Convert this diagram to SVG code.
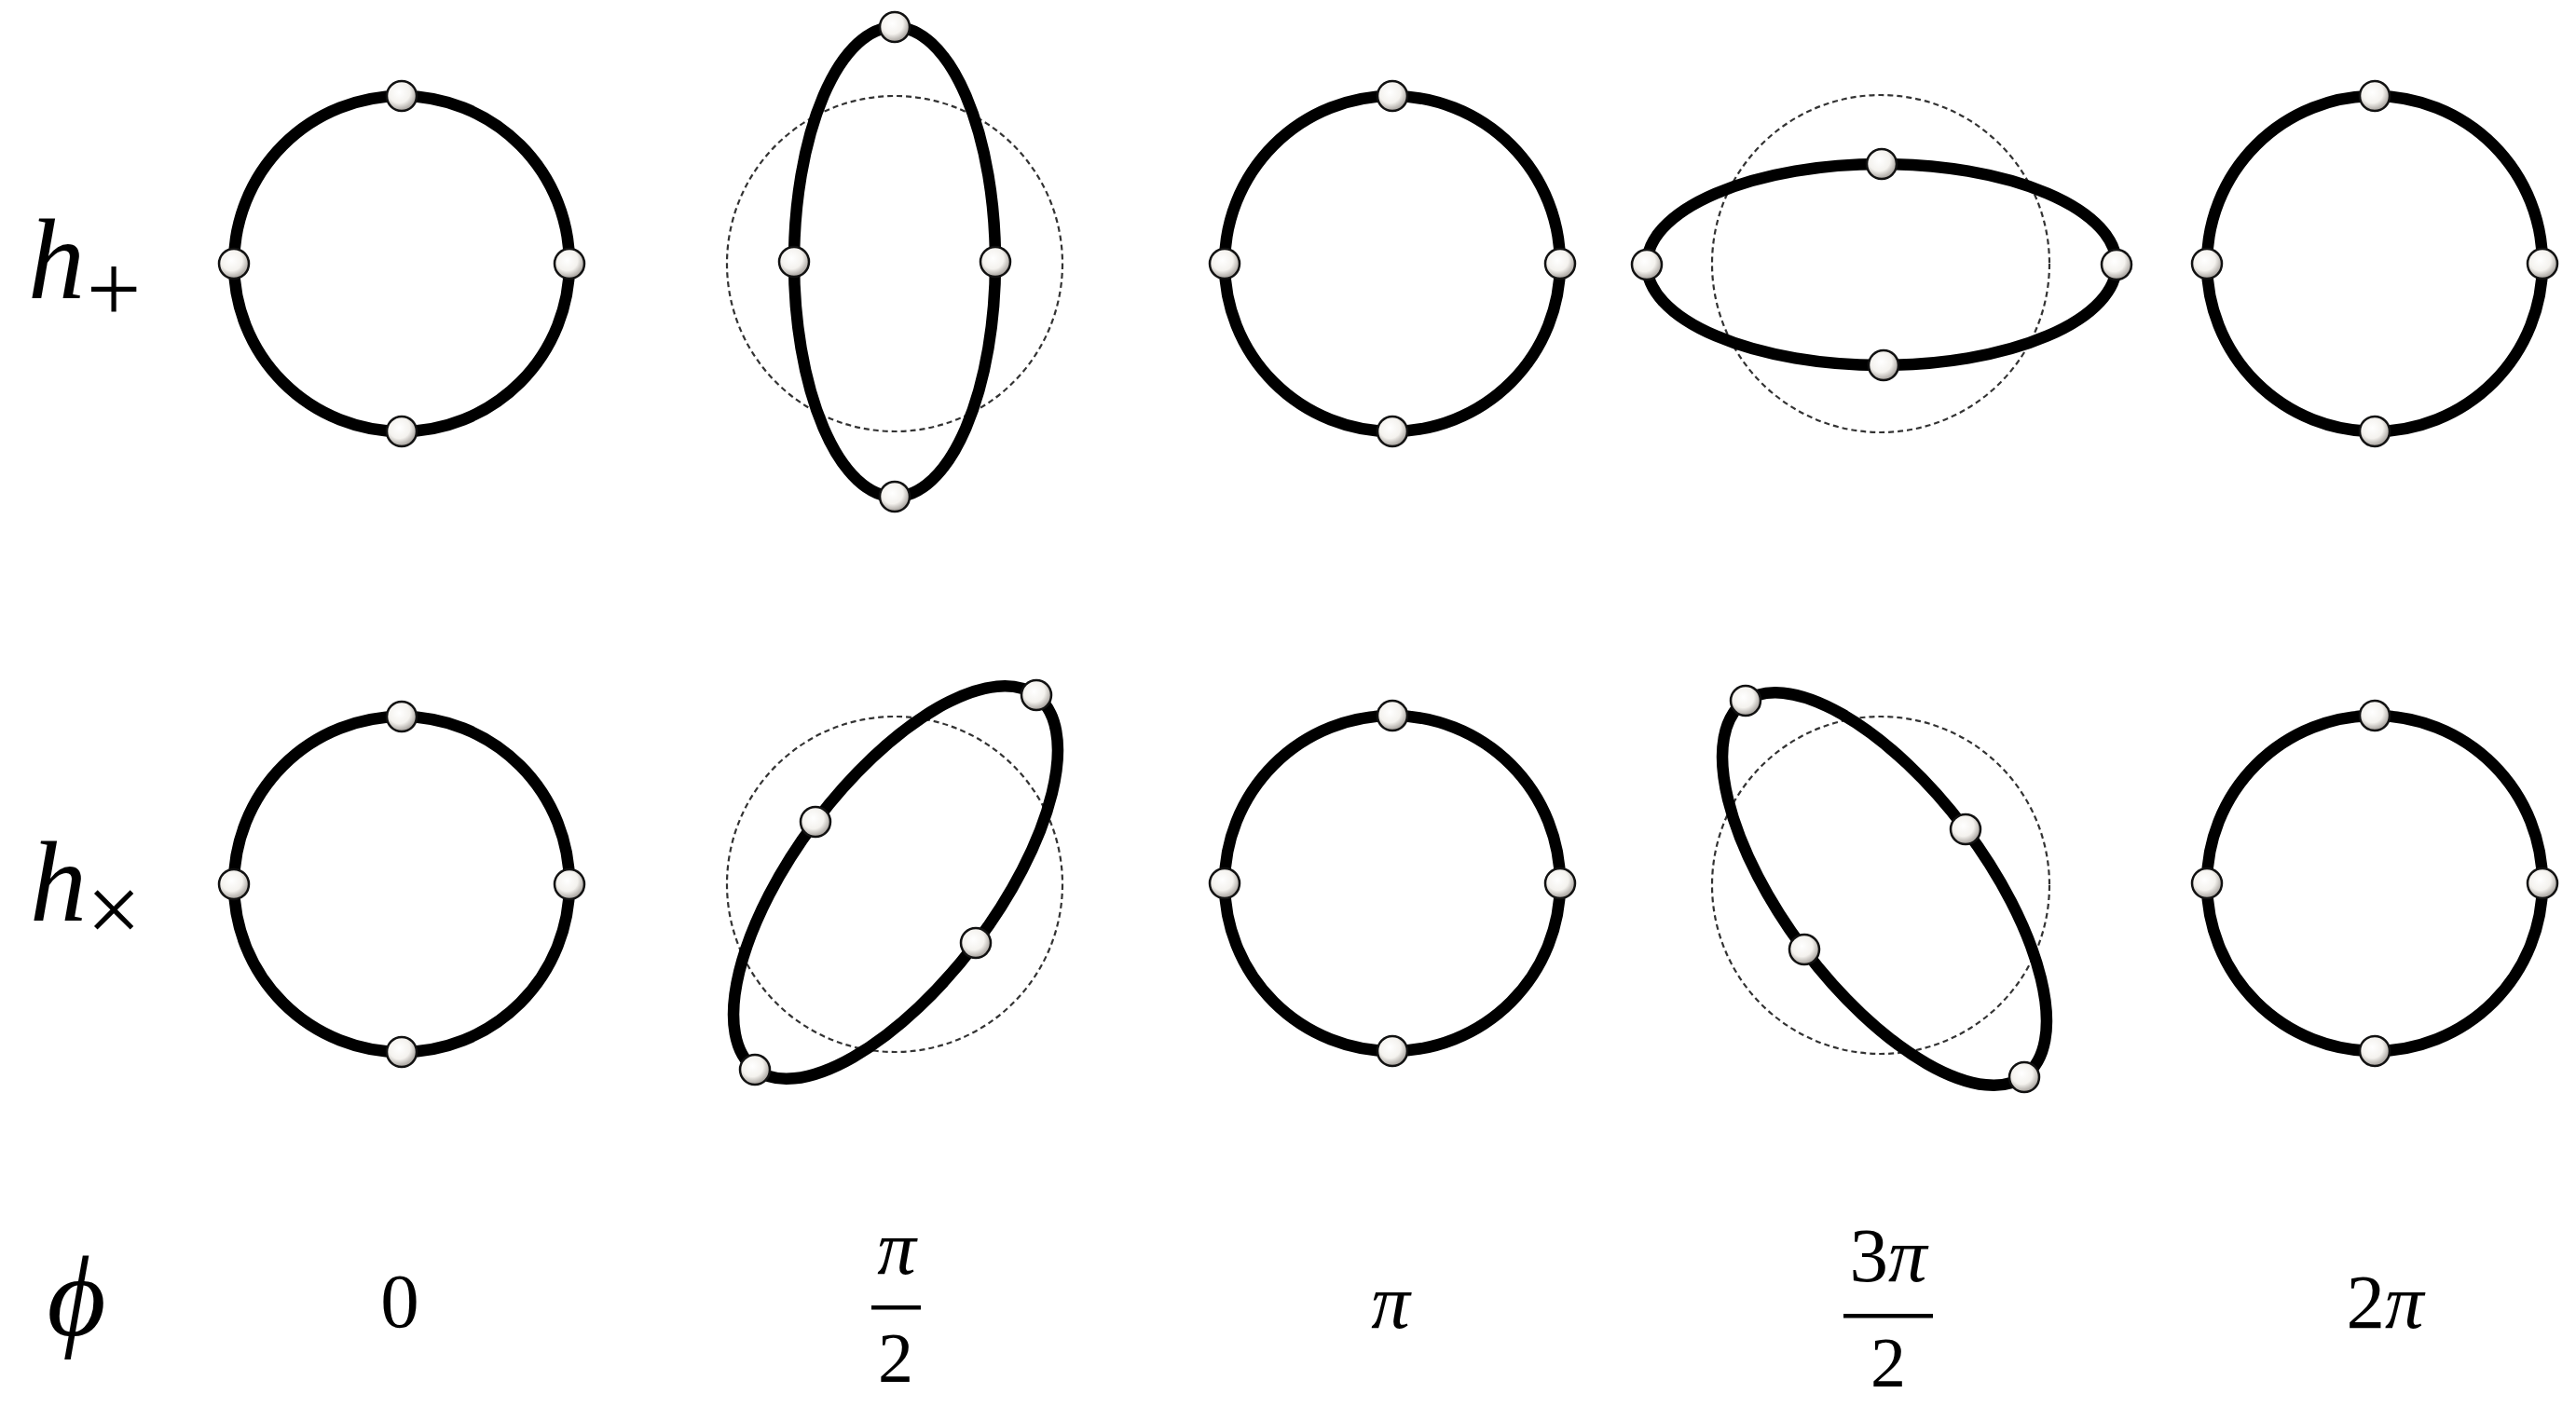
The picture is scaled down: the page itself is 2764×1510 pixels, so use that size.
<svg xmlns="http://www.w3.org/2000/svg" width="2764" height="1510" viewBox="0 0 2764 1510">
<style>
.ring{fill:none;stroke:#000;stroke-width:12.5}
.ref{fill:none;stroke:#333;stroke-width:2.2;stroke-dasharray:6 4}
.bead{fill:url(#bg);stroke:#111;stroke-width:2.5}
.m{font-family:"Liberation Serif","DejaVu Serif",serif;fill:#000}
.it{font-style:italic}
</style>
<defs>
<radialGradient id="bg" cx="0.42" cy="0.38" r="0.65">
<stop offset="0" stop-color="#ffffff"/>
<stop offset="0.55" stop-color="#f4f2ee"/>
<stop offset="1" stop-color="#9a9590"/>
</radialGradient>
</defs>
<rect width="2764" height="1510" fill="#fff"/>

<g id="label-hplus">
<text class="m it" x="30" y="320" font-size="122">h</text>
<text class="m" x="122" y="345" font-size="104" text-anchor="middle">+</text>
</g>
<g id="label-hcross">
<text class="m it" x="32" y="988" font-size="122">h</text>
<text class="m" x="122" y="1011" font-size="104" text-anchor="middle">×</text>
</g>
<g id="label-phi">
<text class="m it" x="82" y="1433" font-size="122" text-anchor="middle">ϕ</text>
</g>

<g id="plus-0">
<circle class="ring" cx="431" cy="283" r="180"/>
<circle class="bead" cx="431" cy="103" r="16"/>
<circle class="bead" cx="431" cy="463" r="16"/>
<circle class="bead" cx="251" cy="283" r="16"/>
<circle class="bead" cx="611" cy="283" r="16"/>
</g>
<g id="plus-pi2">
<circle class="ref" cx="960" cy="283" r="180"/>
<ellipse class="ring" cx="960" cy="281" rx="108" ry="252"/>
<circle class="bead" cx="960" cy="29" r="16"/>
<circle class="bead" cx="960" cy="533" r="16"/>
<circle class="bead" cx="852" cy="281" r="16"/>
<circle class="bead" cx="1068" cy="281" r="16"/>
</g>
<g id="plus-pi">
<circle class="ring" cx="1494" cy="283" r="180"/>
<circle class="bead" cx="1494" cy="103" r="16"/>
<circle class="bead" cx="1494" cy="463" r="16"/>
<circle class="bead" cx="1314" cy="283" r="16"/>
<circle class="bead" cx="1674" cy="283" r="16"/>
</g>
<g id="plus-3pi2">
<circle class="ref" cx="2018" cy="283" r="181"/>
<ellipse class="ring" cx="2019" cy="284" rx="252" ry="108"/>
<circle class="bead" cx="1767" cy="284" r="16"/>
<circle class="bead" cx="2271" cy="284" r="16"/>
<circle class="bead" cx="2019" cy="176" r="16"/>
<circle class="bead" cx="2021" cy="392" r="16"/>
</g>
<g id="plus-2pi">
<circle class="ring" cx="2548" cy="283" r="180"/>
<circle class="bead" cx="2548" cy="103" r="16"/>
<circle class="bead" cx="2548" cy="463" r="16"/>
<circle class="bead" cx="2368" cy="283" r="16"/>
<circle class="bead" cx="2728" cy="283" r="16"/>
</g>

<g id="cross-0">
<circle class="ring" cx="431" cy="949" r="180"/>
<circle class="bead" cx="431" cy="769" r="16"/>
<circle class="bead" cx="431" cy="1129" r="16"/>
<circle class="bead" cx="251" cy="949" r="16"/>
<circle class="bead" cx="611" cy="949" r="16"/>
</g>
<g id="cross-pi2">
<circle class="ref" cx="960" cy="949" r="180"/>
<ellipse class="ring" cx="961" cy="947" rx="251" ry="108" transform="rotate(-53 961 947)"/>
<circle class="bead" cx="1112" cy="746" r="16"/>
<circle class="bead" cx="810" cy="1148" r="16"/>
<circle class="bead" cx="875" cy="882" r="16"/>
<circle class="bead" cx="1047" cy="1012" r="16"/>
</g>
<g id="cross-pi">
<circle class="ring" cx="1494" cy="948" r="180"/>
<circle class="bead" cx="1494" cy="768" r="16"/>
<circle class="bead" cx="1494" cy="1128" r="16"/>
<circle class="bead" cx="1314" cy="948" r="16"/>
<circle class="bead" cx="1674" cy="948" r="16"/>
</g>
<g id="cross-3pi2">
<circle class="ref" cx="2018" cy="950" r="181"/>
<ellipse class="ring" cx="2022" cy="954" rx="251" ry="108" transform="rotate(53 2022 954)"/>
<circle class="bead" cx="1873" cy="752" r="16"/>
<circle class="bead" cx="2172" cy="1156" r="16"/>
<circle class="bead" cx="2109" cy="890" r="16"/>
<circle class="bead" cx="1936" cy="1019" r="16"/>
</g>
<g id="cross-2pi">
<circle class="ring" cx="2548" cy="948" r="180"/>
<circle class="bead" cx="2548" cy="768" r="16"/>
<circle class="bead" cx="2548" cy="1128" r="16"/>
<circle class="bead" cx="2368" cy="948" r="16"/>
<circle class="bead" cx="2728" cy="948" r="16"/>
</g>

<g id="connectors"></g>

<g id="phase-labels">
<text class="m" x="429" y="1424" font-size="83" text-anchor="middle">0</text>
<text class="m it" x="962" y="1367" font-size="83" text-anchor="middle">π</text>
<rect x="935" y="1401" width="53" height="4.5" fill="#000"/>
<text class="m" x="961" y="1483" font-size="76" text-anchor="middle">2</text>
<text class="m it" x="1492" y="1425" font-size="83" text-anchor="middle">π</text>
<text class="m" x="2026" y="1375" font-size="83" text-anchor="middle">3<tspan class="it">π</tspan></text>
<rect x="1978" y="1410" width="96" height="4.5" fill="#000"/>
<text class="m" x="2026" y="1488" font-size="76" text-anchor="middle">2</text>
<text class="m" x="2559" y="1425" font-size="83" text-anchor="middle">2<tspan class="it">π</tspan></text>
</g>
</svg>
